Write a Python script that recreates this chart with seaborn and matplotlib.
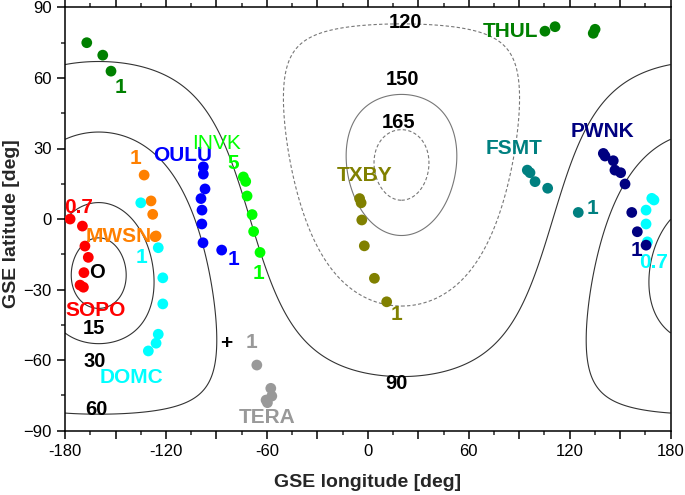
import matplotlib
matplotlib.use("Agg")
import matplotlib.pyplot as plt
from matplotlib.ticker import MultipleLocator, FuncFormatter
import seaborn as sns
import pandas as pd
import numpy as np

# station tracks (GSE lon, lat in deg)
thul_lon = [-167.1, -157.6, -152.7, 105.3, 111.3, 134.0, 135.1]
thul_lat = [75.0, 69.7, 62.9, 79.9, 81.8, 79.0, 80.7]
oulu_lon = [-97.8, -97.8, -96.8, -99.2, -98.6, -98.7, -98.0, -86.9]
oulu_lat = [22.2, 19.1, 12.8, 8.7, 3.8, -2.1, -10.1, -13.2]
invk_lon = [-74.0, -72.6, -71.8, -68.8, -67.9, -64.1]
invk_lat = [17.9, 16.0, 9.8, 1.9, -5.3, -14.2]
mwsn_lon = [-133.0, -128.9, -127.9, -125.9, -126.5]
mwsn_lat = [18.7, 7.7, 2.0, -7.2, -7.5]
domc_lon = [-135.0, -124.6, -121.9, -121.9, -124.6, -125.9, -130.5,
            168.8, 170.1, 165.4, 165.4, 166.2]
domc_lat = [6.9, -12.2, -25.0, -36.1, -49.0, -52.8, -56.1,
            8.8, 8.1, 3.8, -2.1, -9.7]
sopo_lon = [-177.0, -169.7, -168.2, -166.2, -168.8, -171.1, -169.1]
sopo_lat = [0.0, -3.0, -11.5, -16.3, -22.8, -28.1, -29.0]
txby_lon = [-4.9, -4.0, -3.6, -2.1, 3.9, 11.2]
txby_lat = [8.7, 6.9, -0.4, -11.4, -25.2, -35.2]
fsmt_lon = [94.8, 96.4, 99.4, 106.9, 125.1]
fsmt_lat = [20.8, 19.7, 15.9, 13.1, 2.8]
pwnk_lon = [140.0, 141.0, 145.9, 146.9, 150.3, 152.9, 156.9, 160.2, 165.4]
pwnk_lat = [27.9, 26.8, 24.8, 20.8, 19.7, 14.9, 2.8, -5.4, -11.1]
tera_lon = [-66.0, -57.7, -57.1, -60.5, -59.7]
tera_lat = [-62.1, -72.0, -75.3, -77.0, -78.1]

stations = {
    "THUL": (thul_lon, thul_lat, "#008000"),
    "OULU": (oulu_lon, oulu_lat, "#0000ff"),
    "INVK": (invk_lon, invk_lat, "#00ff00"),
    "MWSN": (mwsn_lon, mwsn_lat, "#ff8000"),
    "DOMC": (domc_lon, domc_lat, "#00ffff"),
    "SOPO": (sopo_lon, sopo_lat, "#ff0000"),
    "TXBY": (txby_lon, txby_lat, "#808000"),
    "FSMT": (fsmt_lon, fsmt_lat, "#008080"),
    "PWNK": (pwnk_lon, pwnk_lat, "#000080"),
    "TERA": (tera_lon, tera_lat, "#999999"),
}

# text labels: (text, lon, lat, colour, bold)
station_labels = [
    ("THUL", 84.6, 79.9, "#008000", True), ("1", -147.3, 56.1, "#008000", True),
    ("OULU", -109.9, 27.2, "#0000ff", True), ("1", -80.0, -17.1, "#0000ff", True),
    ("INVK", -90.2, 32.3, "#00ff00", False), ("5", -80.1, 23.8, "#00ff00", True),
    ("1", -65.1, -23.0, "#00ff00", True),
    ("MWSN", -148.3, -7.5, "#ff8000", True), ("1", -138.4, 25.9, "#ff8000", True),
    ("DOMC", -140.5, -67.6, "#00ffff", True), ("1", -134.8, -16.2, "#00ffff", True),
    ("0.7", 170.1, -18.6, "#00ffff", True),
    ("SOPO", -161.6, -38.7, "#ff0000", True), ("0.7", -171.7, 5.1, "#ff0000", True),
    ("TXBY", -1.7, 18.7, "#808000", True), ("1", 17.2, -40.4, "#808000", True),
    ("FSMT", 86.9, 30.1, "#008080", True), ("1", 133.7, 4.5, "#008080", True),
    ("PWNK", 139.2, 37.4, "#000080", True), ("1", 159.8, -13.2, "#000080", True),
    ("TERA", -59.9, -84.2, "#999999", True), ("1", -69.0, -52.6, "#999999", True),
]
contour_labels = [
    ("120", 22.1, 83.8), ("150", 20.7, 59.4), ("165", 18.1, 40.9),
    ("90", 16.8, -69.9), ("15", -162.6, -46.5), ("30", -162.6, -60.7),
    ("60", -161.2, -81.2), ("O", -161.2, -22.8),
]
center_lon, center_lat = -160.0, -23.0
plus_lon, plus_lat = -84.3, -52.8

rows = []
for name, (lo, la, _) in stations.items():
    for a, b in zip(lo, la):
        rows.append((name, a, b))
df = pd.DataFrame(rows, columns=["station", "lon", "lat"])
palette = {k: v[2] for k, v in stations.items()}

sns.set_style("ticks")
plt.rcParams['font.family'] = ['Liberation Sans', 'DejaVu Sans']

fig = plt.figure(figsize=(6.85, 4.95), dpi=100)
ax = fig.add_axes([0.095, 0.13, 0.884, 0.855])

# angular distance from the centre point
lon = np.linspace(-180, 180, 721)
lat = np.linspace(-90, 90, 361)
LON, LAT = np.meshgrid(np.radians(lon), np.radians(lat))
l0, b0 = np.radians(center_lon), np.radians(center_lat)
cosd = np.sin(LAT) * np.sin(b0) + np.cos(LAT) * np.cos(b0) * np.cos(LON - l0)
dist = np.degrees(np.arccos(np.clip(cosd, -1, 1)))

ax.contour(lon, lat, dist, levels=[15, 30, 60, 90], colors="#333333", linewidths=0.8)
ax.contour(lon, lat, dist, levels=[150], colors="#777777", linewidths=0.8)
ax.contour(lon, lat, dist, levels=[120, 165], colors="#777777", linewidths=0.8,
           linestyles=[(0, (3, 2)), (0, (3, 2))])

sns.scatterplot(data=df, x="lon", y="lat", hue="station", palette=palette,
                s=60, linewidth=0, legend=False, ax=ax, zorder=3)

for t, x, y, c, b in station_labels:
    ax.text(x, y, t, color=c, fontsize=15, fontweight="bold" if b else "normal",
            ha="center", va="center", zorder=4)
for t, x, y in contour_labels:
    ax.text(x, y, t, color="black", fontsize=14.5, fontweight="bold",
            ha="center", va="center", zorder=4)
ax.text(plus_lon, plus_lat, "+", color="black", fontsize=15, fontweight="bold",
        ha="center", va="center")

ax.set_xlim(-180, 180)
ax.set_ylim(-90, 90)
ax.xaxis.set_major_locator(MultipleLocator(30))
ax.xaxis.set_minor_locator(MultipleLocator(15))
ax.xaxis.set_major_formatter(FuncFormatter(lambda v, p: f"{v:.0f}" if v % 60 == 0 else ""))
ax.yaxis.set_major_locator(MultipleLocator(30))
ax.yaxis.set_minor_locator(MultipleLocator(15))
ax.tick_params(axis="both", which="major", direction="out", length=6, width=1.1,
               labelsize=12, colors="black")
ax.tick_params(axis="both", which="minor", direction="out", length=3, width=1.1)
ax.tick_params(axis="x", which="both", top=True)
for s in ax.spines.values():
    s.set_visible(True)
    s.set_linewidth(1.1)
    s.set_color("black")

ax.set_xlabel("GSE longitude [deg]", fontsize=14, fontweight="bold", labelpad=11)
ax.set_ylabel("GSE latitude [deg]", fontsize=14, fontweight="bold")
ax.yaxis.set_label_coords(-0.074, 0.49)

fig.savefig("out.png", dpi=100)
